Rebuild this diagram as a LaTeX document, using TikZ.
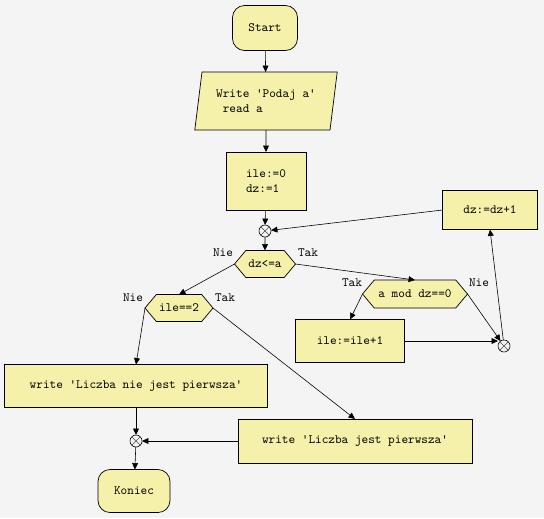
\documentclass[tikz,border=0pt]{standalone}
\usepackage{tikz}
\usetikzlibrary{arrows.meta,shapes.geometric,shapes.symbols}
\definecolor{paper}{HTML}{F4F4F4}
\definecolor{note}{HTML}{F5F1AA}

\begin{document}
\begin{tikzpicture}[x=0.03cm, y=-0.03cm,
  every node/.style={font=\ttfamily\fontsize{10.8}{12.5}\selectfont, inner sep=0pt, outer sep=0pt},
  box/.style={draw, line width=0.6pt, fill=note, align=left},
  term/.style={box, rounded corners=0.36cm},
  io/.style={box, trapezium, trapezium left angle=76, trapezium right angle=104, trapezium stretches=true},
  test/.style={box, signal, signal to=east and west, signal pointer angle=100},
  junction/.style={draw, line width=0.5pt, circle, fill=paper, minimum size=0.36cm},
  flow/.style={line width=0.5pt, -{Triangle[length=5.5pt,width=5pt]}},
  lbl/.style={}]
\fill[paper] (0,0) rectangle (544,518);
\useasboundingbox (0,0) rectangle (544,518);
\node[term, minimum width=1.95cm, minimum height=1.35cm] (start) at (265,28) {Start};
\node[io, minimum width=4.3cm, minimum height=1.74cm] (read) at (266,101) {Write 'Podaj a'\\\ read a};
\node[box, minimum width=2.4cm, minimum height=1.74cm] (init) at (266,181) {ile:=0\\dz:=1};
\node[junction] (j1) at (265,231) {};
\node[test, minimum width=1.83cm, minimum height=0.81cm] (dzle) at (265,264) {dz<=a};
\node[box, minimum width=2.85cm, minimum height=1.17cm] (step1) at (490,210) {dz:=dz+1};
\node[test, minimum width=3.15cm, minimum height=0.84cm] (mod) at (415,294) {a mod dz==0};
\node[box, minimum width=3.27cm, minimum height=1.29cm] (inc) at (350,341) {ile:=ile+1};
\node[junction] (j2) at (504,346) {};
\node[test, minimum width=2.04cm, minimum height=0.81cm] (two) at (179,308) {ile==2};
\node[box, minimum width=7.89cm, minimum height=1.29cm] (notp) at (136,386) {write 'Liczba nie jest pierwsza'};
\node[box, minimum width=7.02cm, minimum height=1.32cm] (isp) at (355,441) {write 'Liczba jest pierwsza'};
\node[junction] (j3) at (136,441) {};
\node[term, minimum width=2.16cm, minimum height=1.29cm] (stop) at (134,491) {Koniec};
\node[lbl] (n1) at (223,253) {Nie};
\node[lbl] (t1) at (308,253) {Tak};
\node[lbl] (t2) at (352,283) {Tak};
\node[lbl] (n2) at (479,283) {Nie};
\node[lbl] (n3) at (133,298) {Nie};
\node[lbl] (t3) at (225,298) {Tak};
\foreach \j in {j1,j2,j3}
  \draw[line width=0.4pt, black!70] (\j.north east) -- (\j.south west) (\j.north west) -- (\j.south east);
\draw[flow] (start) -- (read);
\draw[flow] (read) -- (init);
\draw[flow] (init) -- (j1);
\draw[flow] (j1) -- (dzle);
\draw[flow] (step1.west) -- (j1);
\draw[flow] (dzle.west) -- (two.north);
\draw[flow] (dzle.east) -- (mod.north);
\draw[flow] (mod.west) -- (inc.north);
\draw[flow] (mod.east) -- (j2);
\draw[flow] (inc.east) -- (inc.east -| j2.west);
\draw[flow] (j2) -- (step1.south);
\draw[flow] (two.west) -- (notp.north);
\draw[flow] (two.east) -- (isp.north);
\draw[flow] (notp) -- (j3);
\draw[flow] (isp.west) -- (j3);
\draw[flow] (j3) -- (stop);
\end{tikzpicture}
\end{document}
